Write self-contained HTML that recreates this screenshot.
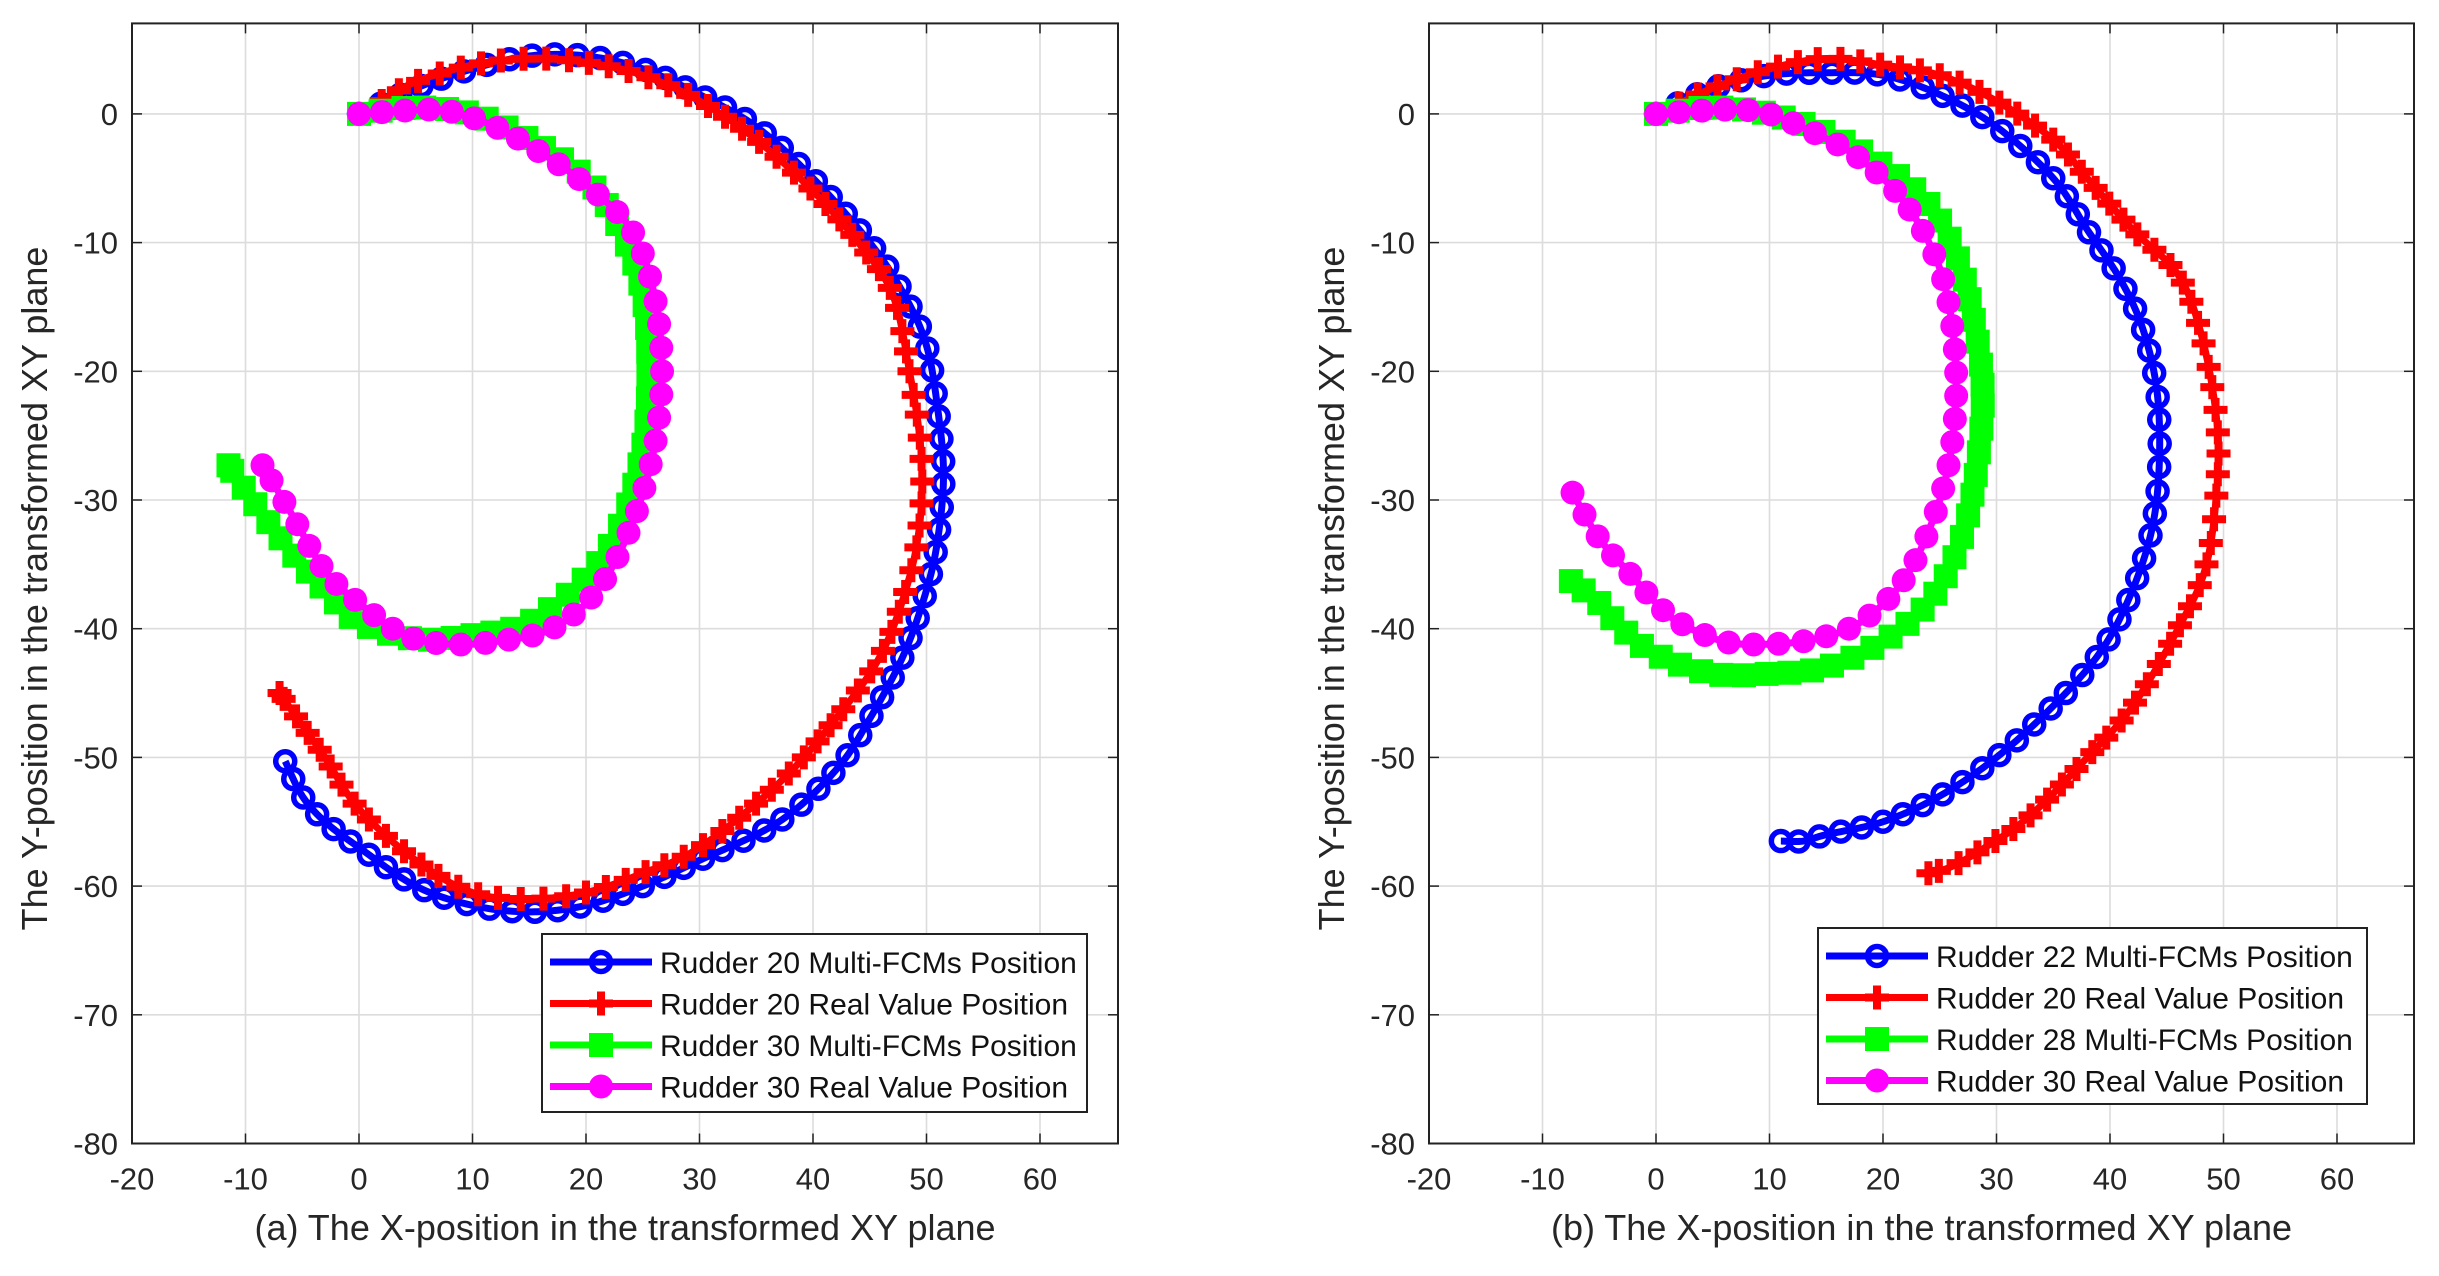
<!DOCTYPE html>
<html><head><meta charset="utf-8"><style>
html,body{margin:0;padding:0;background:#fff;}
svg{display:block;font-family:"Liberation Sans",sans-serif;}
</style></head><body>
<svg id="s" width="2439" height="1276" viewBox="0 0 2439 1276" xmlns="http://www.w3.org/2000/svg"></svg>
<script>
const S=document.getElementById('s');let out='';
function P(o){
  const X=x=>o.x0+(x+20)*11.35, Y=y=>113.9-y*12.87;
  const L=X(-20),R=o.right,T=23.4,B=1143.5;
  let g='';
  for(let x=-20;x<=60;x+=10){const px=X(x);g+=`<line x1="${px}" y1="${T}" x2="${px}" y2="${B}" stroke="#dcdcdc" stroke-width="1.6"/>`;
   g+=`<line x1="${px}" y1="${B}" x2="${px}" y2="${B-10}" stroke="#222" stroke-width="1.5"/><line x1="${px}" y1="${T}" x2="${px}" y2="${T+10}" stroke="#222" stroke-width="1.5"/>`;
   g+=`<text x="${px}" y="${B+46}" font-size="31" text-anchor="middle" fill="#262626">${x}</text>`;}
  for(let y=0;y>=-80;y-=10){const py=Y(y);g+=`<line x1="${L}" y1="${py}" x2="${R}" y2="${py}" stroke="#dcdcdc" stroke-width="1.6"/>`;
   g+=`<line x1="${L}" y1="${py}" x2="${L+10}" y2="${py}" stroke="#222" stroke-width="1.5"/><line x1="${R}" y1="${py}" x2="${R-10}" y2="${py}" stroke="#222" stroke-width="1.5"/>`;
   g+=`<text x="${L-14}" y="${py+11}" font-size="31" text-anchor="end" fill="#262626">${y}</text>`;}
  g+=`<rect x="${L}" y="${T}" width="${R-L}" height="${B-T}" fill="none" stroke="#222" stroke-width="2"/>`;
  g+=`<text x="${(L+R)/2}" y="1240" font-size="36" text-anchor="middle" fill="#262626">${o.xl}</text>`;
  g+=`<text transform="translate(${L-85},${(T+B)/2+5}) rotate(-90)" font-size="36" text-anchor="middle" fill="#262626">The Y-position in the transformed XY plane</text>`;
  o.series.forEach(s=>{
    const pts=s.p.map(q=>[X(q[0]),Y(q[1])]);
    let d=[];for(let i=0;i<pts.length-1;i++){const p0=pts[Math.max(0,i-1)],p1=pts[i],p2=pts[i+1],p3=pts[Math.min(pts.length-1,i+2)];
      for(let t=0;t<1;t+=0.05){const t2=t*t,t3=t2*t;d.push([0,1].map(k=>0.5*((2*p1[k])+(-p0[k]+p2[k])*t+(2*p0[k]-5*p1[k]+4*p2[k]-p3[k])*t2+(-p0[k]+3*p1[k]-3*p2[k]+p3[k])*t3)));}}
    d.push(pts[pts.length-1]);
    g+=`<polyline points="${d.map(q=>q.join(',')).join(' ')}" fill="none" stroke="${s.c}" stroke-width="7" stroke-linejoin="round"/>`;
    let acc=0,mk=[d[0]];for(let i=1;i<d.length;i++){acc+=Math.hypot(d[i][0]-d[i-1][0],d[i][1]-d[i-1][1]);if(acc>=s.sp){mk.push(d[i]);acc=0;}}
    if(acc>4)mk.push(d[d.length-1]);
    mk.forEach(m=>g+=marker(s.m,m[0],m[1],s.c));
  });
  const lg=o.lg;g+=`<rect x="${lg.x}" y="${lg.y}" width="${lg.w}" height="${lg.h}" fill="#fff" stroke="#222" stroke-width="2"/>`;
  o.series.forEach((s,i)=>{const yy=lg.y+28+i*41.5;
    g+=`<line x1="${lg.x+8}" y1="${yy}" x2="${lg.x+110}" y2="${yy}" stroke="${s.c}" stroke-width="7"/>`+marker(s.m,lg.x+59,yy,s.c);
    g+=`<text x="${lg.x+118}" y="${yy+11}" font-size="30" fill="#111">${s.n}</text>`;});
  return g;
}
function marker(m,x,y,c){
  if(m=='o')return `<circle cx="${x}" cy="${y}" r="9.5" fill="none" stroke="${c}" stroke-width="5.5"/>`;
  if(m=='+')return `<path d="M${x-12} ${y}H${x+12}M${x} ${y-12}V${y+12}" stroke="${c}" stroke-width="8"/>`;
  if(m=='s')return `<rect x="${x-12}" y="${y-12}" width="24" height="24" fill="${c}"/>`;
  return `<circle cx="${x}" cy="${y}" r="12" fill="${c}"/>`;
}
const B='#0000ff',Rd='#ff0000',G='#00ff00',M='#ff00ff';
out+=P({x0:132,right:1118,xl:'(a) The X-position in the transformed XY plane',
 lg:{x:542,y:934,w:545,h:178},
 series:[
 {n:'Rudder 20 Multi-FCMs Position',c:B,m:'o',sp:21,p:[[0,0],[5,2],[10,3.5],[15,4.5],[20,4.5],[25,3.5],[30,1.5],[35,-1],[40,-5],[45,-10],[48,-14],[50,-18],[51,-23],[51.5,-28],[51,-33],[50,-37],[48,-42],[45,-47],[42,-51],[37,-55],[30,-58],[25,-60],[20,-61.5],[15,-62],[10,-61.5],[5,-60],[0,-57],[-3,-55],[-5,-53],[-6.5,-50.3]]},
 {n:'Rudder 20 Real Value Position',c:Rd,m:'+',sp:20,p:[[2,1],[5,2.5],[10,3.8],[15,4.3],[20,4],[25,3],[30,1],[35,-2],[40,-6],[44,-10],[47,-14],[48.5,-20],[49.5,-26],[49.5,-31],[48.5,-36],[46,-42],[42,-47],[37,-52],[30,-57],[25,-59],[20,-60.5],[15,-61],[10,-60.5],[5,-58],[0,-54],[-3,-50],[-5,-47.5],[-7,-45]]},
 {n:'Rudder 30 Multi-FCMs Position',c:G,m:'s',sp:20,p:[[0,0],[5,0.5],[10,0],[15,-2],[20,-5],[23,-9],[25,-14],[25.5,-20],[25,-26],[23,-32],[20,-36],[15,-39.5],[10,-40.5],[5,-40.8],[0,-39.5],[-3,-37],[-6,-34],[-9,-30.5],[-11.5,-27.3]]},
 {n:'Rudder 30 Real Value Position',c:M,m:'.',sp:23,p:[[0,0],[5,0.3],[8,0.2],[12,-1],[16,-3],[20,-5.5],[24,-9],[26,-14],[26.7,-20],[26,-26],[24,-32],[21,-37],[17,-40],[12,-41],[8,-41.2],[4,-40.5],[0,-38],[-3,-35.5],[-6,-31],[-8.5,-27.3]]}
 ]});
out+=P({x0:1429,right:2414,xl:'(b) The X-position in the transformed XY plane',
 lg:{x:1818,y:928,w:549,h:176},
 series:[
 {n:'Rudder 22 Multi-FCMs Position',c:B,m:'o',sp:21,p:[[0,0],[5,2],[10,3],[15,3.2],[20,3],[25,1.5],[30,-1],[35,-5],[38,-9],[41,-13],[43,-17],[44.2,-22],[44.3,-28],[43.5,-33],[41.5,-38],[39,-42],[35,-46],[30,-50],[25,-53],[20,-55],[15,-56],[13,-56.5],[11,-56.5]]},
 {n:'Rudder 20 Real Value Position',c:Rd,m:'+',sp:20,p:[[2,0.8],[5,2],[10,3.5],[15,4.3],[20,3.8],[25,3],[30,1],[35,-2],[38,-5],[42,-9],[46,-12.5],[48,-17],[49.3,-23],[49.5,-28],[48.5,-35],[46,-40],[42,-46],[38,-50],[33,-54.5],[29,-57],[26,-58.5],[24,-59]]},
 {n:'Rudder 28 Multi-FCMs Position',c:G,m:'s',sp:20,p:[[0,0],[5,0.5],[10,0],[15,-1.5],[20,-4],[24,-7],[26.5,-11],[28,-16],[28.8,-22],[28,-29],[26.5,-34],[24,-38],[20,-41],[15,-43],[10,-43.5],[5,-43.5],[0,-42],[-3,-40],[-5,-38],[-7.5,-36.3]]},
 {n:'Rudder 30 Real Value Position',c:M,m:'.',sp:23,p:[[0,0],[5,0.3],[8,0.3],[10,0],[14,-1.5],[18,-3.5],[22,-7],[25,-12],[26.3,-18],[26.3,-24],[25,-30],[22,-36],[18,-39.5],[14,-40.8],[10,-41.2],[6,-41],[2,-39.5],[0,-38],[-2,-36],[-5,-33],[-7.5,-29.2]]}
 ]});
S.innerHTML=out;
</script>
</body></html>
